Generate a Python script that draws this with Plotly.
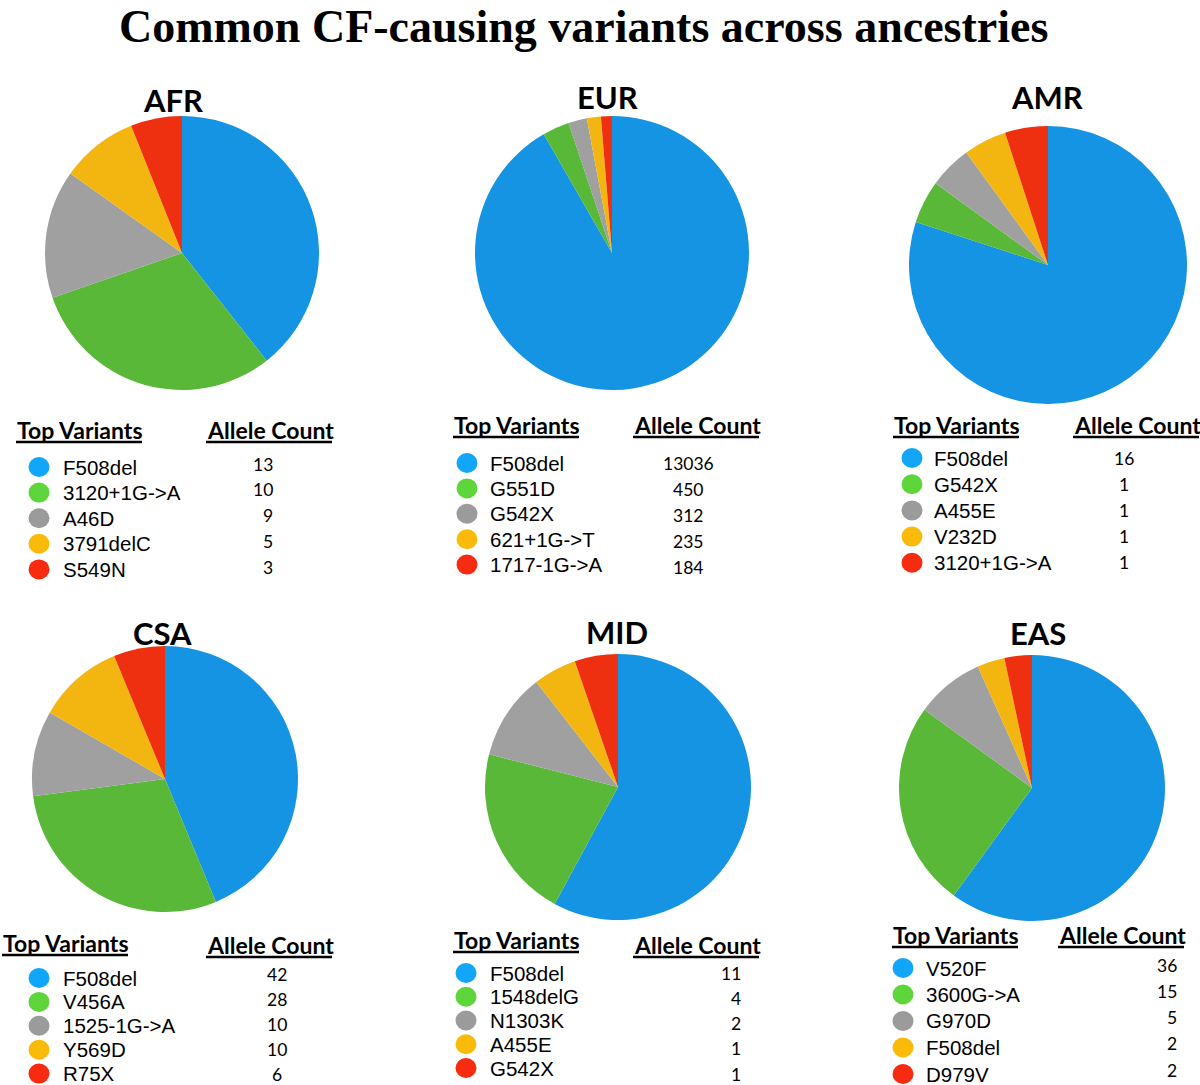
import plotly.graph_objects as go

W, H = 1200, 1085

# ---- data ----
ancestries = ["AFR", "EUR", "AMR", "CSA", "MID", "EAS"]

afr_variants = ["F508del", "3120+1G->A", "A46D", "3791delC", "S549N"]
afr_counts = [13, 10, 9, 5, 3]
afr_slices = [13, 10, 5, 3, 2]  # the AFR pie is drawn with these sizes, not the table counts

eur_variants = ["F508del", "G551D", "G542X", "621+1G->T", "1717-1G->A"]
eur_counts = [13036, 450, 312, 235, 184]

amr_variants = ["F508del", "G542X", "A455E", "V232D", "3120+1G->A"]
amr_counts = [16, 1, 1, 1, 1]

csa_variants = ["F508del", "V456A", "1525-1G->A", "Y569D", "R75X"]
csa_counts = [42, 28, 10, 10, 6]

mid_variants = ["F508del", "1548delG", "N1303K", "A455E", "G542X"]
mid_counts = [11, 4, 2, 1, 1]

eas_variants = ["V520F", "3600G->A", "G970D", "F508del", "D979V"]
eas_counts = [36, 15, 5, 2, 2]

# slice colours (pie) and legend dot colours, in row order
pie_colors = ["#1494E2", "#59B838", "#A0A0A0", "#F3B610", "#EE2F10"]
dot_colors = ["#12A6F8", "#5ED63B", "#9B9B9B", "#F9BA0A", "#F62B10"]

# ---- layout of each panel, in pixels ----
# pie centre/radius, title pos, header pos, dot/name x, rows, count column
panels = {
    "AFR": dict(variants=afr_variants, counts=afr_counts, slices=afr_slices,
                cx=182, cy=253, r=137, title=(173, 100),
                tv=(16, 430), ac=(206, 430), dot_x=39, name_x=61,
                row0=467, step=25.6, cnt_row0=464, cnt_step=25.8, cnt_x=275, cnt_align="right"),
    "EUR": dict(variants=eur_variants, counts=eur_counts, slices=eur_counts,
                cx=612, cy=253, r=137, title=(607, 97),
                tv=(453, 425), ac=(633, 425), dot_x=467, name_x=488,
                row0=463, step=25.4, cnt_row0=463, cnt_step=26.2, cnt_x=688, cnt_align="center"),
    "AMR": dict(variants=amr_variants, counts=amr_counts, slices=amr_counts,
                cx=1048, cy=265, r=139, title=(1047, 97),
                tv=(893, 425), ac=(1073, 425), dot_x=912, name_x=932,
                row0=458, step=26.2, cnt_row0=458, cnt_step=26.2, cnt_x=1124, cnt_align="center"),
    "CSA": dict(variants=csa_variants, counts=csa_counts, slices=csa_counts,
                cx=165, cy=779, r=133, title=(162, 633),
                tv=(2, 943), ac=(206, 945), dot_x=39, name_x=61,
                row0=978, step=23.9, cnt_row0=974, cnt_step=25.2, cnt_x=277, cnt_align="center"),
    "MID": dict(variants=mid_variants, counts=mid_counts, slices=mid_counts,
                cx=618, cy=787, r=133, title=(617, 632),
                tv=(453, 940), ac=(633, 945), dot_x=466, name_x=488,
                row0=973, step=23.75, cnt_row0=973, cnt_step=25.3, cnt_x=743, cnt_align="right"),
    "EAS": dict(variants=eas_variants, counts=eas_counts, slices=eas_counts,
                cx=1032, cy=788, r=133, title=(1038, 633),
                tv=(892, 935), ac=(1058, 935), dot_x=903, name_x=924,
                row0=968, step=26.5, cnt_row0=965, cnt_step=26.25, cnt_x=1179, cnt_align="right"),
}
header_w = 126  # width of the underline below each header


def px(x):
    return x / W


def py(y):
    return 1 - y / H


fig = go.Figure()
annotations = []
shapes = []

for name in ancestries:
    p = panels[name]
    cx, cy, r = p["cx"], p["cy"], p["r"]
    fig.add_trace(go.Pie(
        labels=p["variants"], values=p["slices"], sort=False, direction="clockwise",
        rotation=0, textinfo="none", hoverinfo="label+value",
        marker=dict(colors=pie_colors, line=dict(width=0)),
        domain=dict(x=[px(cx - r), px(cx + r)], y=[py(cy + r), py(cy - r)]),
        showlegend=False,
    ))

    # panel title
    annotations.append(dict(x=px(p["title"][0]), y=py(p["title"][1]), text="<b>" + name + "</b>",
                            showarrow=False, xanchor="center", yanchor="middle",
                            font=dict(family="Lato", size=31, color="black")))

    # table headers, underlined with a thick rule
    for key, txt in [("tv", "Top Variants"), ("ac", "Allele Count")]:
        hx, hy = p[key]
        annotations.append(dict(x=px(hx - 1), y=py(hy), text="<b>" + txt + "</b>",
                                showarrow=False, xanchor="left", yanchor="middle",
                                font=dict(family="Lato", size=23, color="black")))
        shapes.append(dict(type="line", xref="paper", yref="paper",
                           x0=px(hx), x1=px(hx + header_w), y0=py(hy + 12), y1=py(hy + 12),
                           line=dict(color="black", width=2.5)))

    # rows
    for i, (v, c) in enumerate(zip(p["variants"], p["counts"])):
        ry = p["row0"] + i * p["step"]
        cy_ = p["cnt_row0"] + i * p["cnt_step"]
        shapes.append(dict(type="circle", xref="paper", yref="paper",
                           x0=px(p["dot_x"] - 10.5), x1=px(p["dot_x"] + 10.5),
                           y0=py(ry + 10), y1=py(ry - 10),
                           fillcolor=dot_colors[i], line=dict(width=0)))
        annotations.append(dict(x=px(p["name_x"]), y=py(ry), text=v,
                                showarrow=False, xanchor="left", yanchor="middle",
                                font=dict(family="Liberation Sans", size=20.5, color="black")))
        annotations.append(dict(x=px(p["cnt_x"]), y=py(cy_), text=str(c),
                                showarrow=False, xanchor=p["cnt_align"], yanchor="middle",
                                font=dict(family="Lato", size=17.5, color="black")))

# main title
annotations.append(dict(x=px(583), y=py(26), text="<b>Common CF-causing variants across ancestries</b>",
                        showarrow=False, xanchor="center", yanchor="middle",
                        font=dict(family="Liberation Serif", size=46, color="black")))

fig.update_layout(
    width=W, height=H,
    margin=dict(l=0, r=0, t=0, b=0),
    paper_bgcolor="white", plot_bgcolor="white",
    annotations=annotations, shapes=shapes,
)

# drop the browser's default body margin so the figure sits at the page corner
fig.write_html("out.html", config={"displayModeBar": False},
               post_script="document.body.style.margin='0px';")
